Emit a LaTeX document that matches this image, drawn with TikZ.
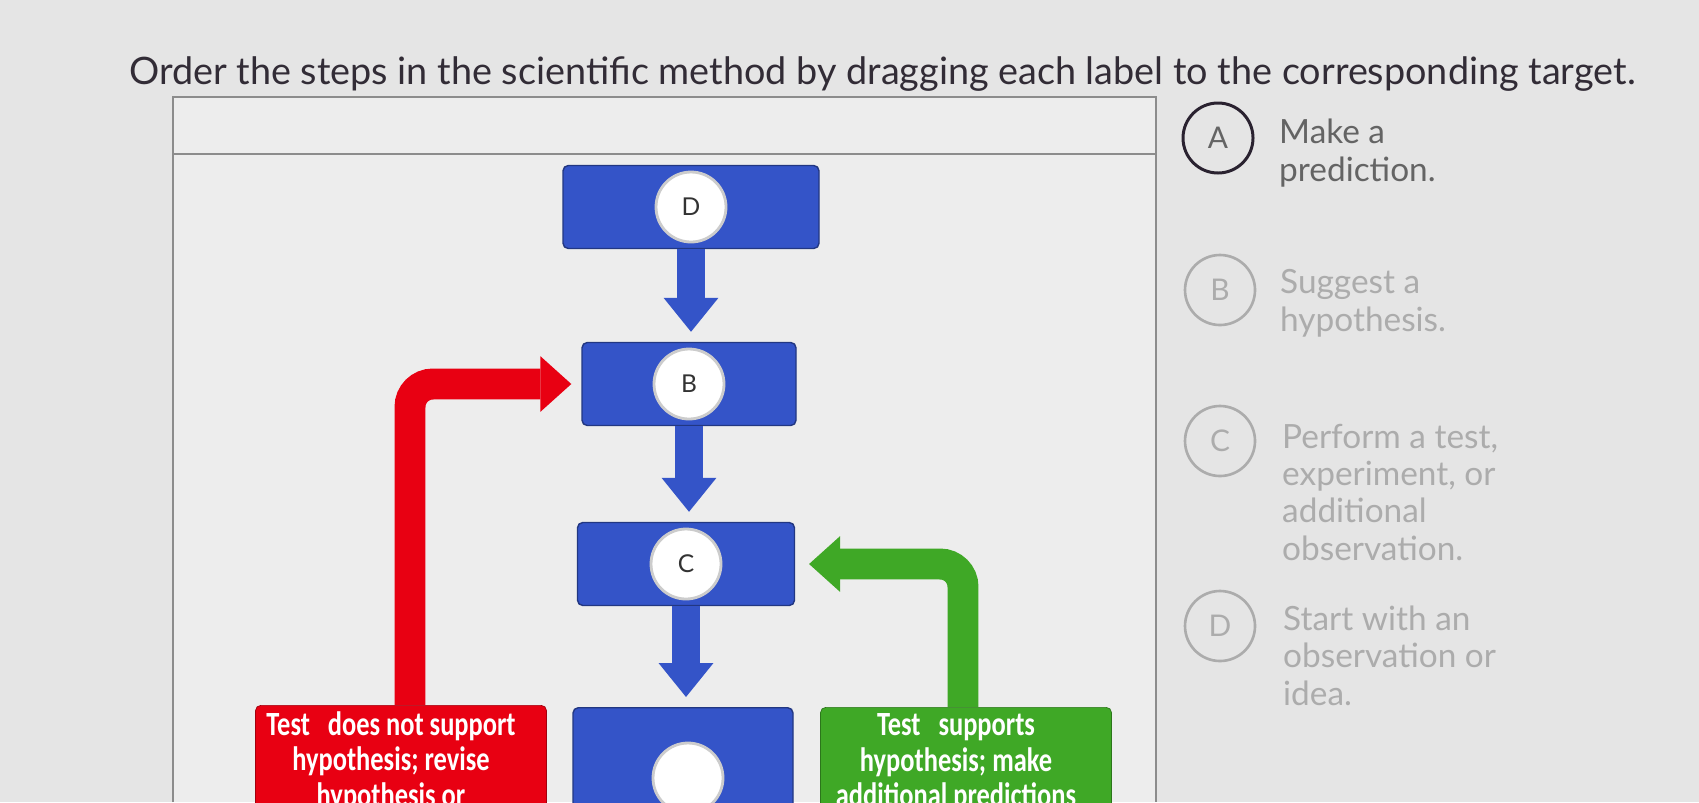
\documentclass[tikz,border=0pt]{standalone}
\usepackage{fontspec}
\setmainfont{Lato}
\newfontfamily\boxfont{Carlito}[FakeStretch=0.78]
\usetikzlibrary{arrows.meta,positioning,calc}

\definecolor{bgcol}{RGB}{229,229,229}
\definecolor{panelcol}{RGB}{237,237,237}
\definecolor{linecol}{RGB}{140,140,140}
\definecolor{titlecol}{RGB}{50,44,54}
\definecolor{stepblue}{RGB}{52,84,200}
\definecolor{stepred}{RGB}{232,0,18}
\definecolor{stepgreen}{RGB}{63,168,38}
\definecolor{optdark}{RGB}{42,34,48}
\definecolor{optgray}{RGB}{172,172,172}
\definecolor{labgray}{RGB}{100,100,100}

\newlength{\pxu}\setlength{\pxu}{0.02cm}

\begin{document}
\begin{tikzpicture}[x=0.02cm, y=-0.02cm,
    stepbox/.style={rectangle, rounded corners=3pt, fill=stepblue, draw=stepblue!65!black, line width=0.8pt, minimum height=83\pxu},
    slot/.style={circle, fill=white, draw=gray!40, line width=1.6pt, minimum size=70\pxu, inner sep=0pt, text=gray!40!black, font=\fontsize{14pt}{16pt}\selectfont},
    outcome/.style={rectangle, rounded corners=3pt, minimum width=291\pxu, minimum height=160\pxu, anchor=north},
    outtext/.style={anchor=north, align=center, text=white, font=\boxfont\bfseries\fontsize{19.3pt}{20.4pt}\selectfont},
    flow/.style={draw=stepblue, line width=16.4pt, -{Triangle[length=19.3pt, width=31.2pt, line width=0pt]}, shorten >=5.7pt},
    backflow/.style={line width=17.6pt, rounded corners=13pt, -{Triangle[length=17.6pt, width=31.7pt, line width=0pt]}},
    choice/.style={circle, minimum size=70\pxu, inner sep=0pt, draw=optgray, line width=1.5pt, text=optgray, font=\fontsize{17pt}{19pt}\selectfont},
    optlabel/.style={anchor=base west, align=left, text=optgray, font=\fontsize{19pt}{21.1pt}\selectfont},
    panel/.style={draw=linecol, line width=1.1pt}
]
    \useasboundingbox (0,0) rectangle (1699,802);
    \clip (0,0) rectangle (1699,802);
    \fill[bgcol] (0,0) rectangle (1699,802);
    \fill[panelcol] (173,97) rectangle (1156,802);
    \draw[panel] (173,802) -- (173,97) -- (1156,97) -- (1156,802);
    \draw[panel] (173,154) -- (1156,154);

    \node[anchor=base west, text=titlecol, font=\fontsize{21.5pt}{25pt}\selectfont] (title) at (123,84)
        {Order the steps in the scientific method by dragging each label to the corresponding target.};

    % flow chart
    \node[stepbox, minimum width=256\pxu] (dbox) at (691,207) {};
    \node[stepbox, minimum width=214\pxu] (bbox) at (689,384) {};
    \node[stepbox, minimum width=217\pxu] (cbox) at (686,564) {};
    \node[stepbox, minimum width=220\pxu, minimum height=160\pxu, anchor=north] (abox) at (683,707) {};
    \node[slot] (dslot) at (dbox.center) {D};
    \node[slot] (bslot) at (bbox.center) {B};
    \node[slot] (cslot) at (cbox.center) {C};
    \node[slot] (aslot) at (688,778) {};

    \node[outcome, fill=stepred, draw=stepred!70!black] (nobox) at (401,705) {};
    \node[outtext] (notext) at ([xshift=-10\pxu]nobox.north)
        {Test~~~does not support\\hypothesis; revise\\hypothesis or};
    \node[outcome, fill=stepgreen, draw=stepgreen!70!black] (yesbox) at (966,707) {};
    \node[outtext] (yestext) at ([xshift=-10\pxu]yesbox.north)
        {Test~~~supports\\hypothesis; make\\additional predictions};

    \draw[flow] (dbox.south) -- (dbox.south |- bbox.north);
    \draw[flow] (bbox.south) -- (bbox.south |- cbox.north);
    \draw[flow] (cbox.south) -- (cbox.south |- abox.north);
    \draw[backflow, draw=stepred, shorten >=5.7pt] ([xshift=9\pxu]nobox.north) |- (bbox.west);
    \draw[backflow, draw=stepgreen, shorten >=7.9pt] ([xshift=-3\pxu]yesbox.north) |- (cbox.east);

    % answer labels
    \node[choice, draw=optdark, text=labgray, line width=1.7pt] (optA) at (1218,138) {A};
    \node[choice] (optB) at (1220,290) {B};
    \node[choice] (optC) at (1220,441) {C};
    \node[choice] (optD) at (1220,626) {D};
    \node[optlabel, text=labgray] (txtA) at (1273,181) {Make a\\prediction.};
    \node[optlabel] (txtB) at (1274,331) {Suggest a\\hypothesis.};
    \node[optlabel] (txtC) at (1276,560) {Perform a test,\\experiment, or\\additional\\observation.};
    \node[optlabel] (txtD) at (1277,705) {Start with an\\observation or\\idea.};
\end{tikzpicture}
\end{document}
